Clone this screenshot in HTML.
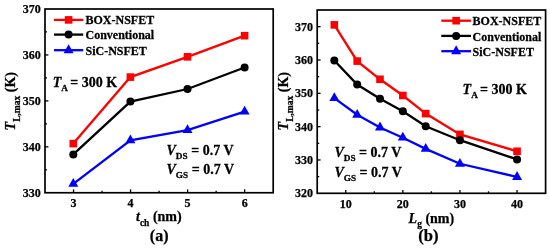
<!DOCTYPE html>
<html><head><meta charset="utf-8"><style>
html,body{margin:0;padding:0;background:#fff;}
svg{display:block;}
text{font-family:"Liberation Serif","Times New Roman",serif;font-weight:bold;fill:#000;stroke:#000;stroke-width:0.25px;}
.tl{font-size:12px;}
.lg{font-size:12px;}
.an{font-size:13.6px;}
.sb{font-size:9px;}
.at{font-size:14px;}
.sb2{font-size:9.5px;}
.pl{font-size:16px;}
.tk{stroke:#000;stroke-width:1.3;}

</style></head><body>
<svg width="550" height="248" viewBox="0 0 550 248">
<line class="tk" x1="73.53" y1="192.75" x2="73.53" y2="189.35"/>
<line class="tk" x1="130.57" y1="192.75" x2="130.57" y2="189.35"/>
<line class="tk" x1="187.62" y1="192.75" x2="187.62" y2="189.35"/>
<line class="tk" x1="244.67" y1="192.75" x2="244.67" y2="189.35"/>
<line class="tk" x1="102.05" y1="192.75" x2="102.05" y2="190.75"/>
<line class="tk" x1="159.1" y1="192.75" x2="159.1" y2="190.75"/>
<line class="tk" x1="216.15" y1="192.75" x2="216.15" y2="190.75"/>
<line class="tk" x1="45" y1="146.81" x2="48.4" y2="146.81"/>
<line class="tk" x1="45" y1="100.88" x2="48.4" y2="100.88"/>
<line class="tk" x1="45" y1="54.94" x2="48.4" y2="54.94"/>
<line class="tk" x1="45" y1="169.78" x2="47" y2="169.78"/>
<line class="tk" x1="45" y1="123.84" x2="47" y2="123.84"/>
<line class="tk" x1="45" y1="77.91" x2="47" y2="77.91"/>
<line class="tk" x1="45" y1="31.97" x2="47" y2="31.97"/>
<rect x="45" y="9" width="228.2" height="183.75" fill="none" stroke="#000" stroke-width="1.7"/>
<text x="73.53" y="207.15" text-anchor="middle" class="tl">3</text>
<text x="130.57" y="207.15" text-anchor="middle" class="tl">4</text>
<text x="187.62" y="207.15" text-anchor="middle" class="tl">5</text>
<text x="244.67" y="207.15" text-anchor="middle" class="tl">6</text>
<text x="40.7" y="196.65" text-anchor="end" class="tl">330</text>
<text x="40.7" y="150.71" text-anchor="end" class="tl">340</text>
<text x="40.7" y="104.78" text-anchor="end" class="tl">350</text>
<text x="40.7" y="58.84" text-anchor="end" class="tl">360</text>
<text x="40.7" y="12.9" text-anchor="end" class="tl">370</text>
<polyline points="73.3,143.6 130.4,77.1 187.5,56.8 244.6,35.7" fill="none" stroke="#ff0000" stroke-width="2.3"/>
<rect x="69.5" y="139.8" width="7.6" height="7.6" fill="#ff0000"/>
<rect x="126.6" y="73.3" width="7.6" height="7.6" fill="#ff0000"/>
<rect x="183.7" y="53" width="7.6" height="7.6" fill="#ff0000"/>
<rect x="240.8" y="31.9" width="7.6" height="7.6" fill="#ff0000"/>
<polyline points="73.3,154.4 130.4,101.6 187.5,89 244.6,67.5" fill="none" stroke="#000000" stroke-width="2.3"/>
<circle cx="73.3" cy="154.4" r="4" fill="#000000"/>
<circle cx="130.4" cy="101.6" r="4" fill="#000000"/>
<circle cx="187.5" cy="89" r="4" fill="#000000"/>
<circle cx="244.6" cy="67.5" r="4" fill="#000000"/>
<polyline points="73.3,183.87 130.4,140.27 187.5,130.17 244.6,111.67" fill="none" stroke="#0000ff" stroke-width="2.3"/>
<polygon points="73.3,178 78.3,186.8 68.3,186.8" fill="#0000ff"/>
<polygon points="130.4,134.4 135.4,143.2 125.4,143.2" fill="#0000ff"/>
<polygon points="187.5,124.3 192.5,133.1 182.5,133.1" fill="#0000ff"/>
<polygon points="244.6,105.8 249.6,114.6 239.6,114.6" fill="#0000ff"/>
<line class="tk" x1="345.75" y1="193.3" x2="345.75" y2="189.9"/>
<line class="tk" x1="402.85" y1="193.3" x2="402.85" y2="189.9"/>
<line class="tk" x1="459.95" y1="193.3" x2="459.95" y2="189.9"/>
<line class="tk" x1="517.05" y1="193.3" x2="517.05" y2="189.9"/>
<line class="tk" x1="374.3" y1="193.3" x2="374.3" y2="191.3"/>
<line class="tk" x1="431.4" y1="193.3" x2="431.4" y2="191.3"/>
<line class="tk" x1="488.5" y1="193.3" x2="488.5" y2="191.3"/>
<line class="tk" x1="317.2" y1="159.97" x2="320.6" y2="159.97"/>
<line class="tk" x1="317.2" y1="126.65" x2="320.6" y2="126.65"/>
<line class="tk" x1="317.2" y1="93.32" x2="320.6" y2="93.32"/>
<line class="tk" x1="317.2" y1="59.99" x2="320.6" y2="59.99"/>
<line class="tk" x1="317.2" y1="26.66" x2="320.6" y2="26.66"/>
<line class="tk" x1="317.2" y1="176.64" x2="319.2" y2="176.64"/>
<line class="tk" x1="317.2" y1="143.31" x2="319.2" y2="143.31"/>
<line class="tk" x1="317.2" y1="109.98" x2="319.2" y2="109.98"/>
<line class="tk" x1="317.2" y1="76.65" x2="319.2" y2="76.65"/>
<line class="tk" x1="317.2" y1="43.33" x2="319.2" y2="43.33"/>
<rect x="317.2" y="10" width="228.4" height="183.3" fill="none" stroke="#000" stroke-width="1.7"/>
<text x="345.75" y="207.7" text-anchor="middle" class="tl">10</text>
<text x="402.85" y="207.7" text-anchor="middle" class="tl">20</text>
<text x="459.95" y="207.7" text-anchor="middle" class="tl">30</text>
<text x="517.05" y="207.7" text-anchor="middle" class="tl">40</text>
<text x="312.9" y="197.2" text-anchor="end" class="tl">320</text>
<text x="312.9" y="163.87" text-anchor="end" class="tl">330</text>
<text x="312.9" y="130.55" text-anchor="end" class="tl">340</text>
<text x="312.9" y="97.22" text-anchor="end" class="tl">350</text>
<text x="312.9" y="63.89" text-anchor="end" class="tl">360</text>
<text x="312.9" y="30.56" text-anchor="end" class="tl">370</text>
<polyline points="334.33,24.85 357.17,61.1 380,79.3 402.85,95.5 425.7,113.6 459.95,134.4 517.05,151.3" fill="none" stroke="#ff0000" stroke-width="2.3"/>
<rect x="330.53" y="21.05" width="7.6" height="7.6" fill="#ff0000"/>
<rect x="353.37" y="57.3" width="7.6" height="7.6" fill="#ff0000"/>
<rect x="376.2" y="75.5" width="7.6" height="7.6" fill="#ff0000"/>
<rect x="399.05" y="91.7" width="7.6" height="7.6" fill="#ff0000"/>
<rect x="421.9" y="109.8" width="7.6" height="7.6" fill="#ff0000"/>
<rect x="456.15" y="130.6" width="7.6" height="7.6" fill="#ff0000"/>
<rect x="513.25" y="147.5" width="7.6" height="7.6" fill="#ff0000"/>
<polyline points="334.33,60.5 357.17,84.6 380,98.7 402.85,111.2 425.7,126.3 459.95,140.2 517.05,159.4" fill="none" stroke="#000000" stroke-width="2.3"/>
<circle cx="334.33" cy="60.5" r="4" fill="#000000"/>
<circle cx="357.17" cy="84.6" r="4" fill="#000000"/>
<circle cx="380" cy="98.7" r="4" fill="#000000"/>
<circle cx="402.85" cy="111.2" r="4" fill="#000000"/>
<circle cx="425.7" cy="126.3" r="4" fill="#000000"/>
<circle cx="459.95" cy="140.2" r="4" fill="#000000"/>
<circle cx="517.05" cy="159.4" r="4" fill="#000000"/>
<polyline points="334.33,98.17 357.17,114.77 380,127.47 402.85,137.67 425.7,148.87 459.95,163.77 517.05,176.97" fill="none" stroke="#0000ff" stroke-width="2.3"/>
<polygon points="334.33,92.3 339.33,101.1 329.33,101.1" fill="#0000ff"/>
<polygon points="357.17,108.9 362.17,117.7 352.17,117.7" fill="#0000ff"/>
<polygon points="380,121.6 385,130.4 375,130.4" fill="#0000ff"/>
<polygon points="402.85,131.8 407.85,140.6 397.85,140.6" fill="#0000ff"/>
<polygon points="425.7,143 430.7,151.8 420.7,151.8" fill="#0000ff"/>
<polygon points="459.95,157.9 464.95,166.7 454.95,166.7" fill="#0000ff"/>
<polygon points="517.05,171.1 522.05,179.9 512.05,179.9" fill="#0000ff"/>
<line x1="54" y1="19.9" x2="83.2" y2="19.9" stroke="#ff0000" stroke-width="2.3"/>
<rect x="64.8" y="16.1" width="7.6" height="7.6" fill="#ff0000"/>
<text transform="translate(85.5,24.3) scale(1,1.05)" class="lg">BOX-NSFET</text>
<line x1="54" y1="34.6" x2="83.2" y2="34.6" stroke="#000000" stroke-width="2.3"/>
<circle cx="68.6" cy="34.6" r="4" fill="#000000"/>
<text transform="translate(85.5,39.4) scale(1,1.05)" class="lg">Conventional</text>
<line x1="54" y1="50.2" x2="83.2" y2="50.2" stroke="#0000ff" stroke-width="2.3"/>
<polygon points="68.6,44.33 73.6,53.13 63.6,53.13" fill="#0000ff"/>
<text transform="translate(85.5,55) scale(1,1.05)" class="lg">SiC-NSFET</text>
<line x1="441.3" y1="20.7" x2="471" y2="20.7" stroke="#ff0000" stroke-width="2.3"/>
<rect x="452.35" y="16.9" width="7.6" height="7.6" fill="#ff0000"/>
<text transform="translate(472.6,25.1) scale(1,1.05)" class="lg">BOX-NSFET</text>
<line x1="441.3" y1="35.9" x2="471" y2="35.9" stroke="#000000" stroke-width="2.3"/>
<circle cx="456.15" cy="35.9" r="4" fill="#000000"/>
<text transform="translate(472.6,40.7) scale(1,1.05)" class="lg">Conventional</text>
<line x1="441.3" y1="51.2" x2="471" y2="51.2" stroke="#0000ff" stroke-width="2.3"/>
<polygon points="456.15,45.33 461.15,54.13 451.15,54.13" fill="#0000ff"/>
<text transform="translate(472.6,56) scale(1,1.05)" class="lg">SiC-NSFET</text>
<text transform="translate(52.8,86.8) scale(1.03,1)" class="an"><tspan font-style="italic">T</tspan><tspan class="sb" dy="3.8">A</tspan><tspan dx="-1.2" dy="-3.8"> = 300 K</tspan></text>
<text transform="translate(462.6,94.3) scale(1.03,1)" class="an"><tspan font-style="italic">T</tspan><tspan class="sb" dy="3.8">A</tspan><tspan dx="-1.2" dy="-3.8"> = 300 K</tspan></text>
<text transform="translate(166.5,154.7) scale(1.03,1)" class="an"><tspan font-style="italic">V</tspan><tspan class="sb" dy="3.8">DS</tspan><tspan dx="0" dy="-3.8"> = 0.7 V</tspan></text>
<text transform="translate(166.5,174.3) scale(1.03,1)" class="an"><tspan font-style="italic">V</tspan><tspan class="sb" dy="3.8">GS</tspan><tspan dx="0" dy="-3.8"> = 0.7 V</tspan></text>
<text transform="translate(334.4,157.4) scale(1.03,1)" class="an"><tspan font-style="italic">V</tspan><tspan class="sb" dy="3.8">DS</tspan><tspan dx="0" dy="-3.8"> = 0.7 V</tspan></text>
<text transform="translate(334.4,176.8) scale(1.03,1)" class="an"><tspan font-style="italic">V</tspan><tspan class="sb" dy="3.8">GS</tspan><tspan dx="0" dy="-3.8"> = 0.7 V</tspan></text>
<text transform="translate(15.3,130.4) rotate(-90)" class="at"><tspan font-style="italic">T</tspan><tspan class="sb2" dy="4.2">L,max</tspan><tspan dy="-4.2"> (K)</tspan></text>
<text transform="translate(288.4,130.4) rotate(-90)" class="at"><tspan font-style="italic">T</tspan><tspan class="sb2" dy="4.2">L,max</tspan><tspan dy="-4.2"> (K)</tspan></text>
<text x="136" y="221.4" class="at"><tspan font-style="italic">t</tspan><tspan class="sb2" dy="4.2">ch</tspan><tspan dy="-4.2"> (nm)</tspan></text>
<text x="408.6" y="223.1" class="at"><tspan font-style="italic">L</tspan><tspan class="sb2" dy="4.2">g</tspan><tspan dy="-4.2"> (nm)</tspan></text>
<text x="159.2" y="241" text-anchor="middle" class="pl">(a)</text>
<text x="428.3" y="241" text-anchor="middle" class="pl" style="font-size:16.6px">(b)</text>
</svg>
</body></html>
